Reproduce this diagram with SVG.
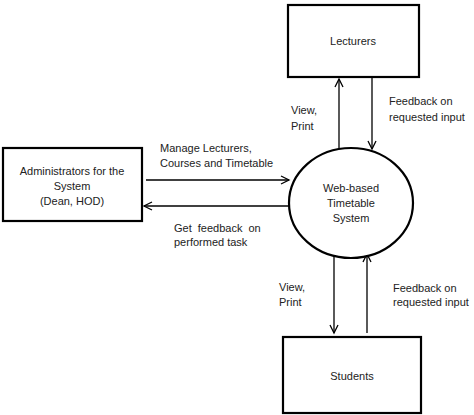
<svg xmlns="http://www.w3.org/2000/svg" width="474" height="415" viewBox="0 0 474 415">
<style>
.box{fill:#fff;stroke:#000;stroke-width:2.2}
.t{font-family:"Liberation Sans",Arial,sans-serif;font-size:11px;fill:#222}
.c{text-anchor:middle}
.ln{stroke:#000;stroke-width:1.3;fill:none;marker-end:url(#ah)}
</style>
<defs>
<marker id="ah" markerWidth="12" markerHeight="12" refX="9" refY="5" orient="auto" markerUnits="userSpaceOnUse">
<path d="M1,1 L9,5 L1,9" fill="none" stroke="#000" stroke-width="1.3"/>
</marker>
</defs>
<rect width="474" height="415" fill="#fff"/>
<g id="connectors">
<line class="ln" x1="339" y1="148" x2="339" y2="79"/>
<line class="ln" x1="372" y1="78" x2="372" y2="149"/>
<line class="ln" x1="146" y1="180" x2="289" y2="180"/>
<line class="ln" x1="289" y1="206" x2="144" y2="206"/>
<line class="ln" x1="334" y1="256" x2="334" y2="333"/>
<line class="ln" x1="367" y1="333" x2="367" y2="254"/>
<text class="t" x="291" y="114">View,</text>
<text class="t" x="291" y="130">Print</text>
<text class="t" x="389" y="105">Feedback on</text>
<text class="t" x="389" y="121">requested input</text>
<text class="t" x="160" y="152">Manage Lecturers,</text>
<text class="t" x="160" y="167">Courses and Timetable</text>
<text class="t" x="174" y="232" word-spacing="3">Get feedback on</text>
<text class="t" x="174" y="246">performed task</text>
<text class="t" x="279" y="291">View,</text>
<text class="t" x="279" y="306">Print</text>
<text class="t" x="393" y="292">Feedback on</text>
<text class="t" x="393" y="306">requested input</text>
</g>
<g id="lecturers">
<rect class="box" x="288" y="5" width="131" height="72"/>
<text class="t c" x="353" y="45">Lecturers</text>
</g>
<g id="admin">
<rect class="box" x="3" y="148" width="139" height="73"/>
<text class="t c" x="72" y="175">Administrators for the</text>
<text class="t c" x="72" y="190">System</text>
<text class="t c" x="72" y="205">(Dean, HOD)</text>
</g>
<g id="system">
<ellipse cx="351" cy="203" rx="62" ry="55" fill="#fff" stroke="#000" stroke-width="2.2"/>
<text class="t c" x="351" y="192">Web-based</text>
<text class="t c" x="351" y="207">Timetable</text>
<text class="t c" x="351" y="222">System</text>
</g>
<g id="students">
<rect class="box" x="283" y="337" width="138" height="76"/>
<text class="t c" x="352" y="380">Students</text>
</g>
</svg>
